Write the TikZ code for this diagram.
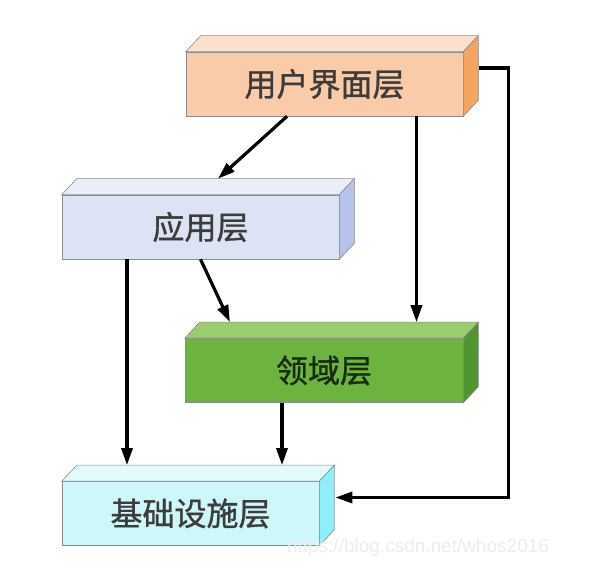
\documentclass[tikz,border=0pt]{standalone}
\usepackage{fontspec}
\setmainfont{Liberation Sans}
\newfontfamily\cjk[FakeBold=1]{Noto Sans CJK SC}
\usetikzlibrary{arrows.meta}

\definecolor{uifront}{HTML}{F9CBA8}
\definecolor{uitop}{HTML}{FCE0CB}
\definecolor{uiside}{HTML}{F3A55F}
\definecolor{appfront}{HTML}{DCE3F5}
\definecolor{apptop}{HTML}{E9EEF9}
\definecolor{appside}{HTML}{B7C3EA}
\definecolor{domfront}{HTML}{6DB33F}
\definecolor{domtop}{HTML}{9ACD72}
\definecolor{domside}{HTML}{509530}
\definecolor{infrafront}{HTML}{CDF7FB}
\definecolor{infratop}{HTML}{E2FAFC}
\definecolor{infraside}{HTML}{8FEFF8}
\definecolor{textgray}{HTML}{3C3C3C}
\definecolor{edgegray}{HTML}{8C8C8C}

\begin{document}
\begin{tikzpicture}[x=1pt, y=1pt,
    layer/.style={draw=edgegray, line width=0.6pt, minimum height=64pt,
      inner sep=0pt, text=textgray, font=\cjk\fontsize{32}{32}\selectfont},
    face/.style={draw=edgegray, line width=0.6pt},
    arr/.style={-{Triangle[length=17pt,width=11pt]}, line width=3.2pt}]

    \useasboundingbox (0,0) rectangle (600,584);

    %% Layers

    % Front faces
    \node[layer, fill=uifront, minimum width=277pt] (ui) at (324.5,500) {用户界面层};
    \node[layer, fill=appfront, minimum width=277pt] (app) at (200.5,357) {应用层};
    \node[layer, fill=domfront, minimum width=278pt, text=black!70!domside] (dom) at (324,213.5) {领域层};
    \node[layer, fill=infrafront, minimum width=257pt] (infra) at (190.5,70.5) {基础设施层};

    % Top faces
    \filldraw[face, fill=uitop] (ui.north west) -- ++(15,16) -- ([shift={(15,16)}]ui.north east) -- (ui.north east) -- cycle;
    \filldraw[face, fill=apptop] (app.north west) -- ++(15,16) -- ([shift={(15,16)}]app.north east) -- (app.north east) -- cycle;
    \filldraw[face, fill=domtop] (dom.north west) -- ++(15,16) -- ([shift={(15,16)}]dom.north east) -- (dom.north east) -- cycle;
    \filldraw[face, fill=infratop] (infra.north west) -- ++(15,16) -- ([shift={(15,16)}]infra.north east) -- (infra.north east) -- cycle;

    % Side faces
    \filldraw[face, fill=uiside] (ui.north east) -- ++(15,16) -- ([shift={(15,16)}]ui.south east) -- (ui.south east) -- cycle;
    \filldraw[face, fill=appside] (app.north east) -- ++(15,16) -- ([shift={(15,16)}]app.south east) -- (app.south east) -- cycle;
    \filldraw[face, fill=domside] (dom.north east) -- ++(15,16) -- ([shift={(15,16)}]dom.south east) -- (dom.south east) -- cycle;
    \filldraw[face, fill=infraside] (infra.north east) -- ++(15,16) -- ([shift={(15,16)}]infra.south east) -- (infra.south east) -- cycle;

    %% Dependencies
    \coordinate (uiside) at ([shift={(16,16)}]ui.east);
    \coordinate (infraside) at ([shift={(16,16)}]infra.east);

    \draw[arr] ([xshift=-37.5pt]ui.south) -- ([xshift=17.5pt,yshift=16pt]app.north);
    \draw[arr] ([xshift=92pt]ui.south) -- ([xshift=92.5pt,yshift=16pt]dom.north);
    \draw[arr] (uiside) -- ++(29,0) |- (infraside);
    \draw[arr] ([xshift=-73.5pt]app.south) -- ([xshift=-63.5pt,yshift=16pt]infra.north);
    \draw[arr] (app.south) -- ([xshift=-94pt,yshift=16pt]dom.north);
    \draw[arr] ([xshift=-42pt]dom.south) -- ([xshift=91.5pt,yshift=16pt]infra.north);

    % Watermark
    \node[text=gray!15, font=\fontsize{19}{19}\selectfont] (mark) at (418,36) {https://blog.csdn.net/whos2016};

\end{tikzpicture}
\end{document}
